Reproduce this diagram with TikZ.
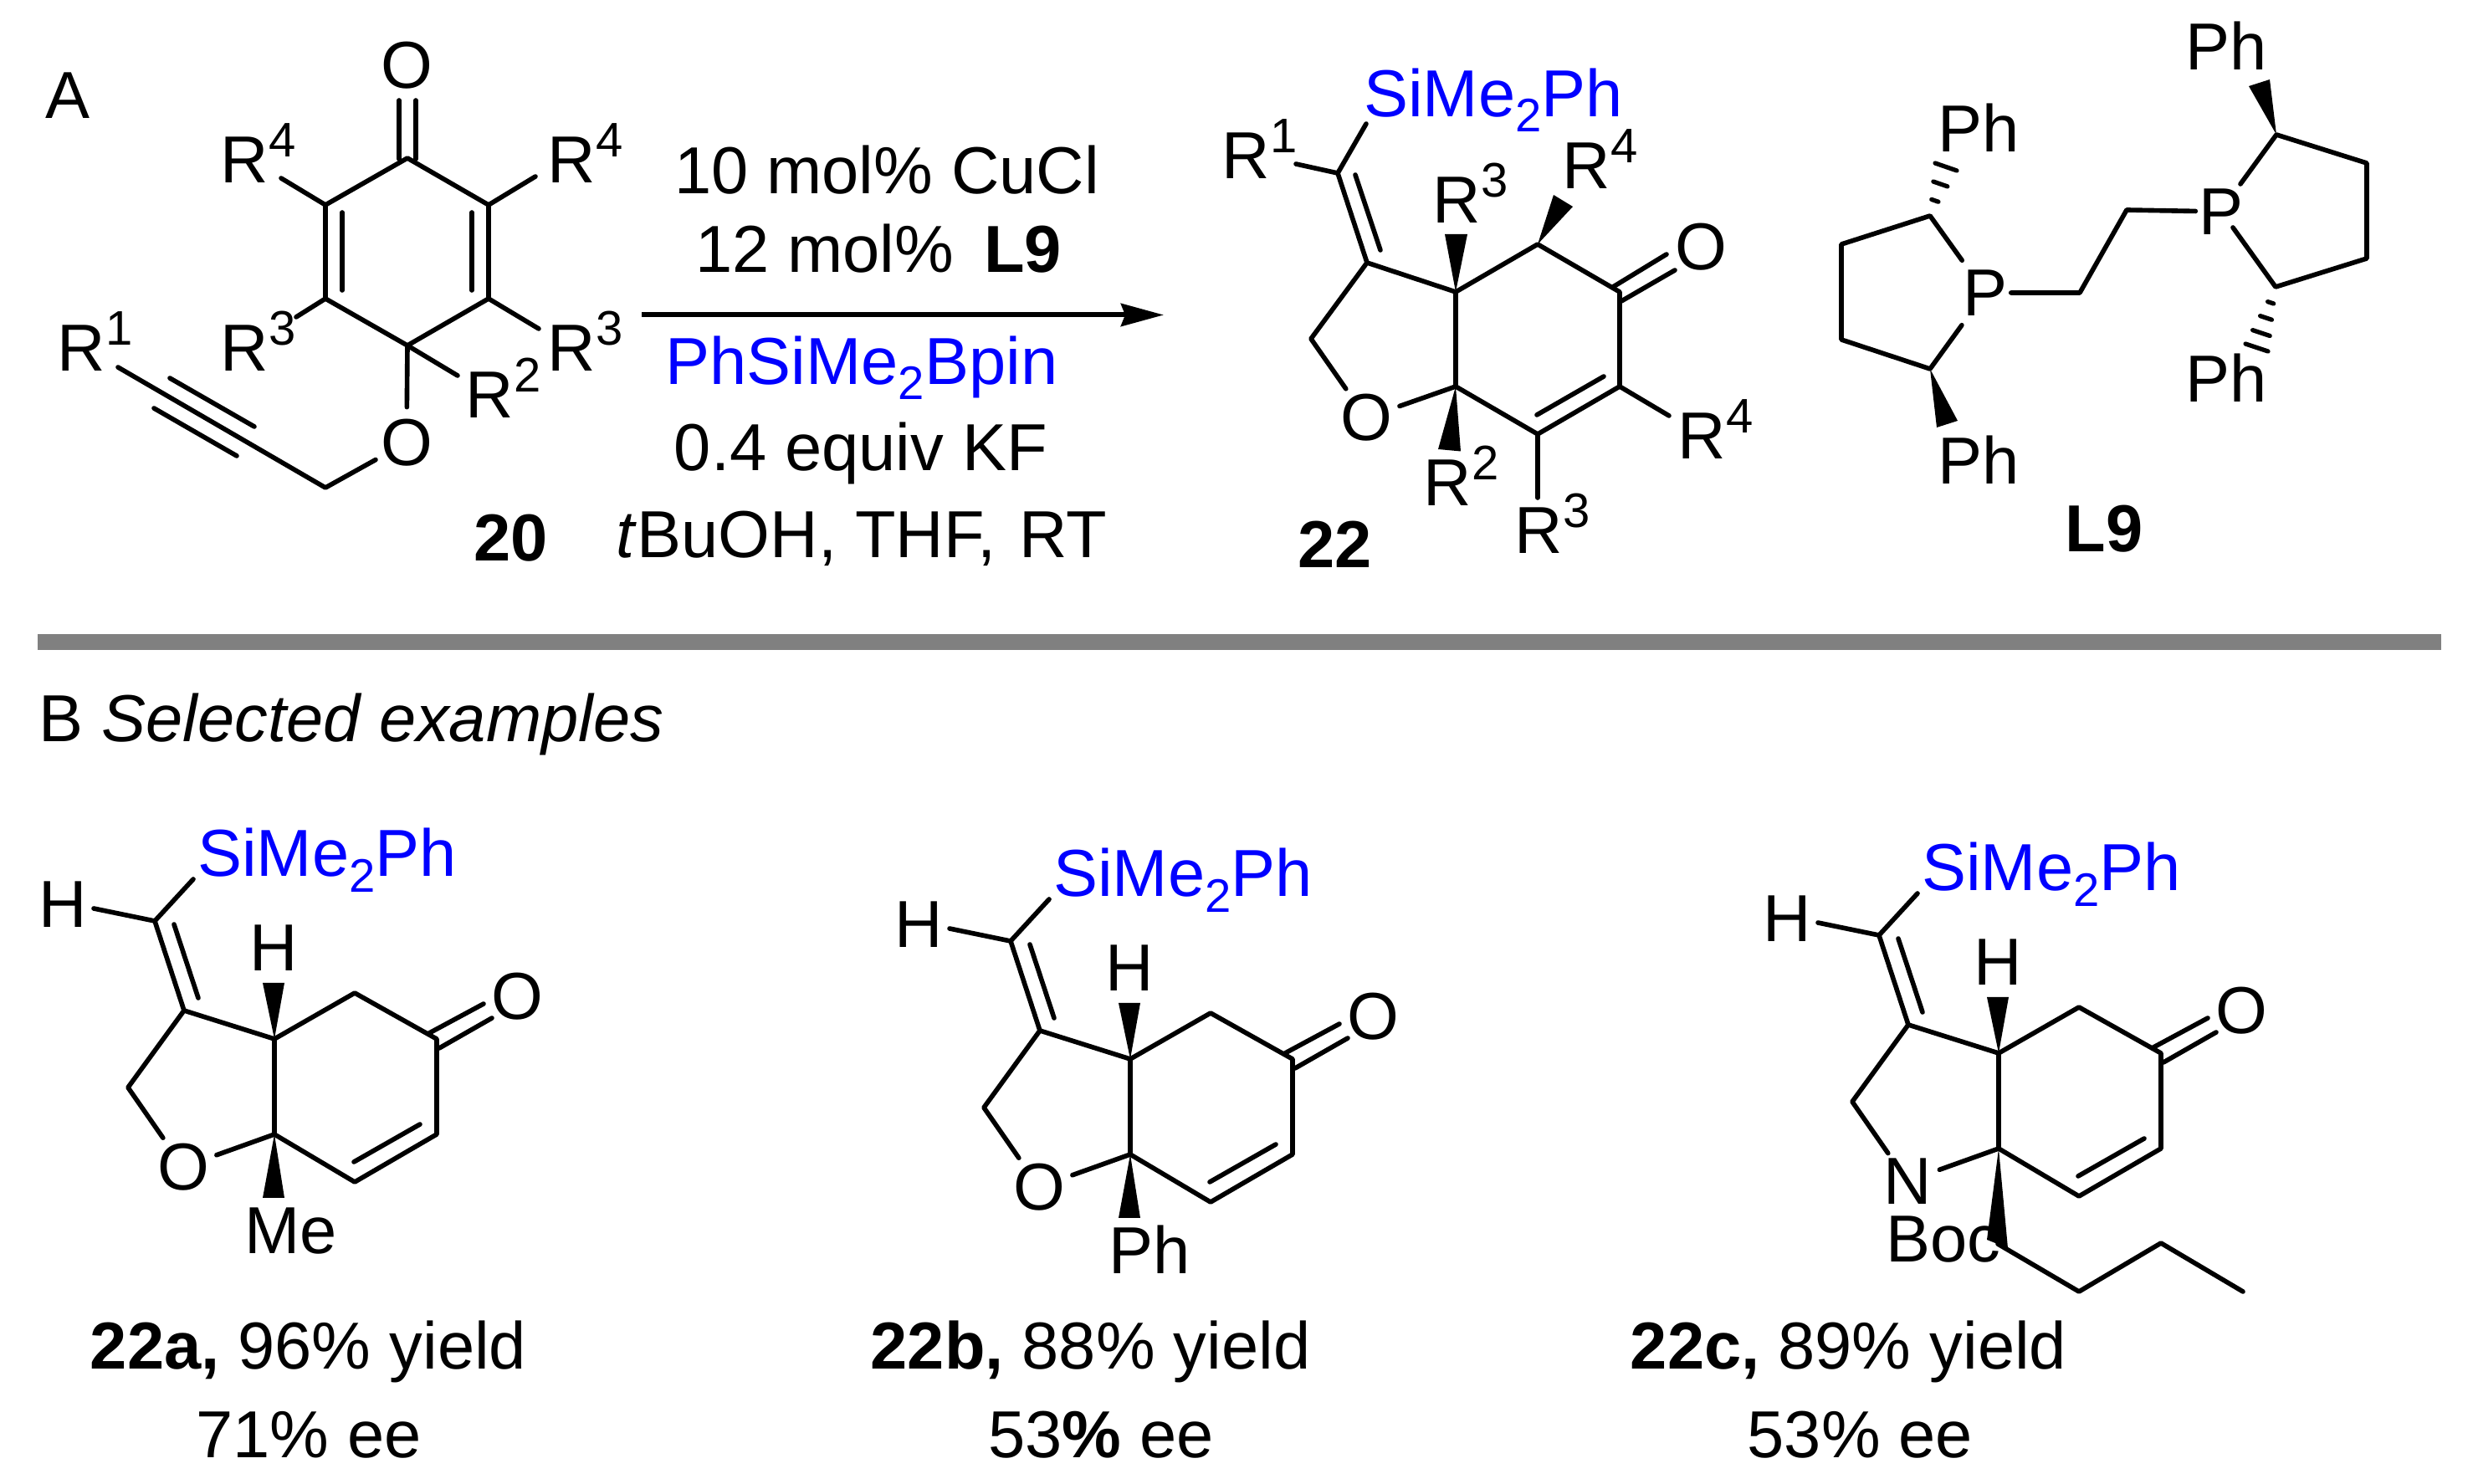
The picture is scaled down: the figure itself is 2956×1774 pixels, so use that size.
\documentclass[tikz,border=0pt]{standalone}
\usepackage{xcolor}
\usepackage{fontspec}
\setmainfont{Liberation Sans}
\usetikzlibrary{arrows.meta,calc}
\definecolor{silyl}{RGB}{0,0,255}
\definecolor{barcol}{RGB}{128,128,128}
\newcommand{\rsubst}[1]{R\raisebox{0.31cm}{\fontsize{16.5}{16.5}\selectfont #1}}
\newcommand{\subtwo}{\raisebox{-0.18cm}{\fontsize{16}{16}\selectfont 2}}
\newcommand{\silane}{\textcolor{silyl}{SiMe\subtwo Ph}}
\tikzset{
  every node/.style={font=\fontsize{22.6}{26}\selectfont},
  txt/.style={inner sep=0pt,anchor=base west},
  mid/.style={inner sep=0pt,anchor=base},
  atom/.style={circle,inner sep=0pt,minimum size=0.8cm},
  phos/.style={rectangle,inner sep=0pt,minimum width=0.6cm,minimum height=0.76cm},
  bond/.style={line width=1.6pt,line cap=round,line join=round},
  wedgebond/.style={fill=black},
  hashbond/.style={line width=1.5pt,line cap=round}
}
\begin{document}
\begin{tikzpicture}[x=0.01cm,y=-0.01cm] % one unit is one pixel of the reference
\useasboundingbox (0,0) rectangle (2956,1774);

% A: substrate 20
\node[txt] (labela) at (54,142) {A};
\coordinate (qtop) at (487,189); \coordinate (qul) at (389,245); \coordinate (qll) at (389,357);
\coordinate (qbot) at (487,413); \coordinate (qlr) at (584,357); \coordinate (qur) at (584,245);
\coordinate (chtwo) at (389,583);
\node[atom] (oket) at (486,78) {O};
\node[atom] (oeth) at (486,529) {O};
\node[txt] (rfourl) at (263,219) {\rsubst{4}};
\node[txt] (rfourr) at (654,219) {\rsubst{4}};
\node[txt] (rthreel) at (263,444) {\rsubst{3}};
\node[txt] (rthreer) at (654,444) {\rsubst{3}};
\node[txt] (rtwo) at (556,500) {\rsubst{2}};
\node[txt] (rone) at (68,444) {\rsubst{1}};
\node[txt] (numtwenty) at (566,671) {\textbf{20}};
\coordinate (endfl) at (336,213); \coordinate (endfr) at (640,211);
\coordinate (endtl) at (354,379); \coordinate (endtr) at (644,393);
\coordinate (endtw) at (547,449); \coordinate (endon) at (141,439);
\draw[bond] (qtop) -- (qul) -- (qll) -- (qbot) -- (qlr) -- (qur) -- cycle;
\coordinate (coa) at (477,120); \coordinate (cob) at (477,190);
\coordinate (coc) at (497,120); \coordinate (cod) at (497,190);
\coordinate (ila) at (409,254); \coordinate (ilb) at (409,347);
\coordinate (ira) at (564,254); \coordinate (irb) at (564,347);
\draw[bond] (coa) -- (cob);
\draw[bond] (coc) -- (cod);
\draw[bond] (ila) -- (ilb);
\draw[bond] (ira) -- (irb);
\draw[bond] (qul) -- (endfl);
\draw[bond] (qur) -- (endfr);
\draw[bond] (qll) -- (endtl);
\draw[bond] (qlr) -- (endtr);
\draw[bond] (qbot) -- (endtw);
\draw[bond] (qbot) -- (oeth);
\draw[bond] (oeth) -- (chtwo) -- (endon);
\coordinate (tra) at (203,452); \coordinate (trb) at (304,510);
\coordinate (trc) at (184,488); \coordinate (trd) at (283,545);
\draw[bond] (tra) -- (trb);
\draw[bond] (trc) -- (trd);

% reaction arrow and conditions
\coordinate (arrowa) at (767,376.5);
\coordinate (arrowb) at (1391,376.5);
\draw[line width=1.7pt,-{Stealth[length=0.51cm,width=0.27cm,inset=0.05cm]}] (arrowa) -- (arrowb);
\node[mid] (condcu) at (1060,232) {10 mol\% CuCl};
\node[mid] (condl) at (1050,326) {12 mol\%\hspace{0.45em}\textbf{L9}};
\node[mid] (condsi) at (1030,460) {\textcolor{silyl}{PhSiMe\subtwo Bpin}};
\node[mid] (condkf) at (1029,563) {0.4 equiv KF};
\node[mid] (condsol) at (1030,667) {\textit{t}BuOH, THF,\hspace{0.36em}RT};

% A: product 22
\coordinate (pexo) at (1599,207); \coordinate (pthree) at (1634,314); \coordinate (pja) at (1740,349);
\coordinate (pjb) at (1740,462); \coordinate (pch) at (1567,405); \coordinate (pfour) at (1838,292);
\coordinate (pfive) at (1936,349); \coordinate (psix) at (1936,462); \coordinate (psev) at (1838,519);
\node[atom] (poeth) at (1633,499.5) {O};
\node[atom] (poket) at (2033,295) {O};
\node[txt] (psi) at (1629.5,140) {\silane};
\node[txt] (prone) at (1460,214) {\rsubst{1}};
\node[txt] (prthree) at (1712,267) {\rsubst{3}};
\node[txt] (prfour) at (1867,226) {\rsubst{4}};
\node[txt] (prfourb) at (2005,549) {\rsubst{4}};
\node[txt] (prthreeb) at (1810,662) {\rsubst{3}};
\node[txt] (prtwo) at (1701,605) {\rsubst{2}};
\node[txt] (numtt) at (1551,679) {\textbf{22}};
\coordinate (psiend) at (1633,148); \coordinate (proend) at (1549,196);
\coordinate (pfbend) at (1995,497); \coordinate (ptbend) at (1838,595);
\draw[bond] (pja) -- (pfour) -- (pfive) -- (psix) -- (psev) -- (pjb) -- cycle;
\draw[bond] (pjb) -- (poeth) -- (pch) -- (pthree) -- (pja);
\draw[bond] (pthree) -- (pexo) -- (psiend);
\draw[bond] (pexo) -- (proend);
\draw[bond] (psix) -- (pfbend);
\draw[bond] (psev) -- (ptbend);
\coordinate (pia) at (1620,209); \coordinate (pib) at (1650,299);
\coordinate (pic) at (1837,496); \coordinate (pid) at (1917,450);
\coordinate (poa) at (1928,343); \coordinate (pob) at (1992,304);
\coordinate (poc) at (1938,360); \coordinate (pod) at (2002,323);
\draw[bond] (pia) -- (pib);
\draw[bond] (pic) -- (pid);
\draw[bond] (poa) -- (pob);
\draw[bond] (poc) -- (pod);
\coordinate (wra) at (1727,280); \coordinate (wrb) at (1754,280);
\coordinate (wfa) at (1857,233); \coordinate (wfb) at (1880,247);
\coordinate (wta) at (1719,537); \coordinate (wtb) at (1746,539.5);
\fill[wedgebond] (pja) -- (wra) -- (wrb) -- cycle;
\fill[wedgebond] (pfour) -- (wfa) -- (wfb) -- cycle;
\fill[wedgebond] (pjb) -- (wta) -- (wtb) -- cycle;

% A: ligand L9
\node[phos] (pleft) at (2373,350) {P};
\node[phos] (pright) at (2655,253) {P};
\node[txt] (phla) at (2316,182) {Ph};
\node[txt] (phlb) at (2316,579) {Ph};
\node[txt] (phra) at (2612,84) {Ph};
\node[txt] (phrb) at (2612,481) {Ph};
\node[txt] (numlig) at (2468,660) {\textbf{L9}};
\coordinate (lta) at (2307,258); \coordinate (ltb) at (2201,292); \coordinate (ltc) at (2201,406); \coordinate (ltd) at (2307,441);
\coordinate (rta) at (2721,161); \coordinate (rtb) at (2829,195); \coordinate (rtc) at (2829,309); \coordinate (rtd) at (2720,343);
\coordinate (rtae) at (2678,220); \coordinate (rtde) at (2669,272);
\coordinate (ethb) at (2486,350); \coordinate (ethc) at (2542,251);
\draw[bond] (pleft) -- (lta) -- (ltb) -- (ltc) -- (ltd) -- (pleft);
\draw[bond] (rtae) -- (rta) -- (rtb) -- (rtc) -- (rtd) -- (rtde);
\draw[bond] (pleft) -- (ethb) -- (ethc) -- (pright);
\coordinate (wla) at (2315,511); \coordinate (wlb) at (2340,503);
\coordinate (wqa) at (2688,103); \coordinate (wqb) at (2713,95);
\fill[wedgebond] (ltd) -- (wla) -- (wlb) -- cycle;
\fill[wedgebond] (rta) -- (wqa) -- (wqb) -- cycle;
\coordinate (hla) at (2313,195); \coordinate (hlb) at (2339,204);
\coordinate (hra) at (2684,411); \coordinate (hrb) at (2711,420);
\foreach \pos in {0.31,0.65,1}
  \draw[hashbond] ($(lta)!\pos!(hla)$) -- ($(lta)!\pos!(hlb)$);
\foreach \pos in {0.26,0.51,0.76,1}
  \draw[hashbond] ($(rtd)!\pos!(hra)$) -- ($(rtd)!\pos!(hrb)$);

% separator and heading
\coordinate (barleft) at (45,767.5);
\coordinate (barright) at (2918,767.5);
\draw[line width=0.19cm,color=barcol] (barleft) -- (barright);
\node[txt] (labelb) at (46,887) {B \textit{Selected examples}};

% B: the three examples share one skeleton
\foreach \ex/\dx/\dy/\xatom in {a/0/0/O,b/1023/24/O,c/2061/17/N}{
\begin{scope}[shift={(\dx,\dy)},name prefix=\ex-]
\coordinate (cexo) at (185,1101); \coordinate (cthree) at (220,1208); \coordinate (cja) at (328,1242);
\coordinate (cjb) at (328,1356); \coordinate (cch) at (153,1300); \coordinate (cfour) at (424,1187);
\coordinate (cfive) at (522,1242); \coordinate (csix) at (522,1356); \coordinate (csev) at (424,1413);
\node[atom] (xat) at (219,1395) {\xatom};
\node[atom] (oket) at (618,1191) {O};
\node[txt] (si) at (235.5,1048) {\silane};
\node[txt] (hexo) at (46,1109) {H};
\node[txt] (htop) at (298,1161) {H};
\coordinate (siend) at (231,1051); \coordinate (hend) at (112,1086);
\draw[bond] (cja) -- (cfour) -- (cfive) -- (csix) -- (csev) -- (cjb) -- cycle;
\draw[bond] (cjb) -- (xat) -- (cch) -- (cthree) -- (cja);
\draw[bond] (cthree) -- (cexo) -- (siend);
\draw[bond] (cexo) -- (hend);
\coordinate (ia) at (208,1105); \coordinate (ib) at (237,1193);
\coordinate (ic) at (423,1389); \coordinate (id) at (502,1344);
\coordinate (oa) at (513,1235); \coordinate (ob) at (578,1200);
\coordinate (oc) at (525,1253); \coordinate (od) at (588,1217);
\draw[bond] (ia) -- (ib);
\draw[bond] (ic) -- (id);
\draw[bond] (oa) -- (ob);
\draw[bond] (oc) -- (od);
\coordinate (wa) at (314,1175); \coordinate (wb) at (340,1175);
\fill[wedgebond] (cja) -- (wa) -- (wb) -- cycle;
\end{scope}
}
\node[txt] (mea) at (292,1499) {Me};
\node[txt] (phb) at (1325,1523) {Ph};
\coordinate (wma) at (314,1432); \coordinate (wmb) at (340,1432);
\coordinate (wpa) at (1337,1456); \coordinate (wpb) at (1363,1456);
\fill[wedgebond] (a-cjb) -- (wma) -- (wmb) -- cycle;
\fill[wedgebond] (b-cjb) -- (wpa) -- (wpb) -- cycle;
\node[txt] (boc) at (2254,1509) {Boc};
\coordinate (wca) at (2375,1482); \coordinate (wcb) at (2400,1492);
\coordinate (bua) at (2388,1487); \coordinate (bub) at (2485,1544);
\coordinate (buc) at (2583,1486); \coordinate (bud) at (2681,1544);
\fill[wedgebond] (c-cjb) -- (wca) -- (wcb) -- cycle;
\draw[bond] (bua) -- (bub) -- (buc) -- (bud);

% yields
\node[mid] (yielda) at (368.5,1637) {\textbf{22a,} 96\% yield};
\node[mid] (eea) at (369,1743) {71\% ee};
\node[mid] (yieldb) at (1303.5,1637) {\textbf{22b,} 88\% yield};
\node[mid] (eeb) at (1316,1743) {53\textbf{\%} ee};
\node[mid] (yieldc) at (2209.5,1637) {\textbf{22c,} 89\% yield};
\node[mid] (eec) at (2223.5,1743) {53\% ee};
\end{tikzpicture}
\end{document}
